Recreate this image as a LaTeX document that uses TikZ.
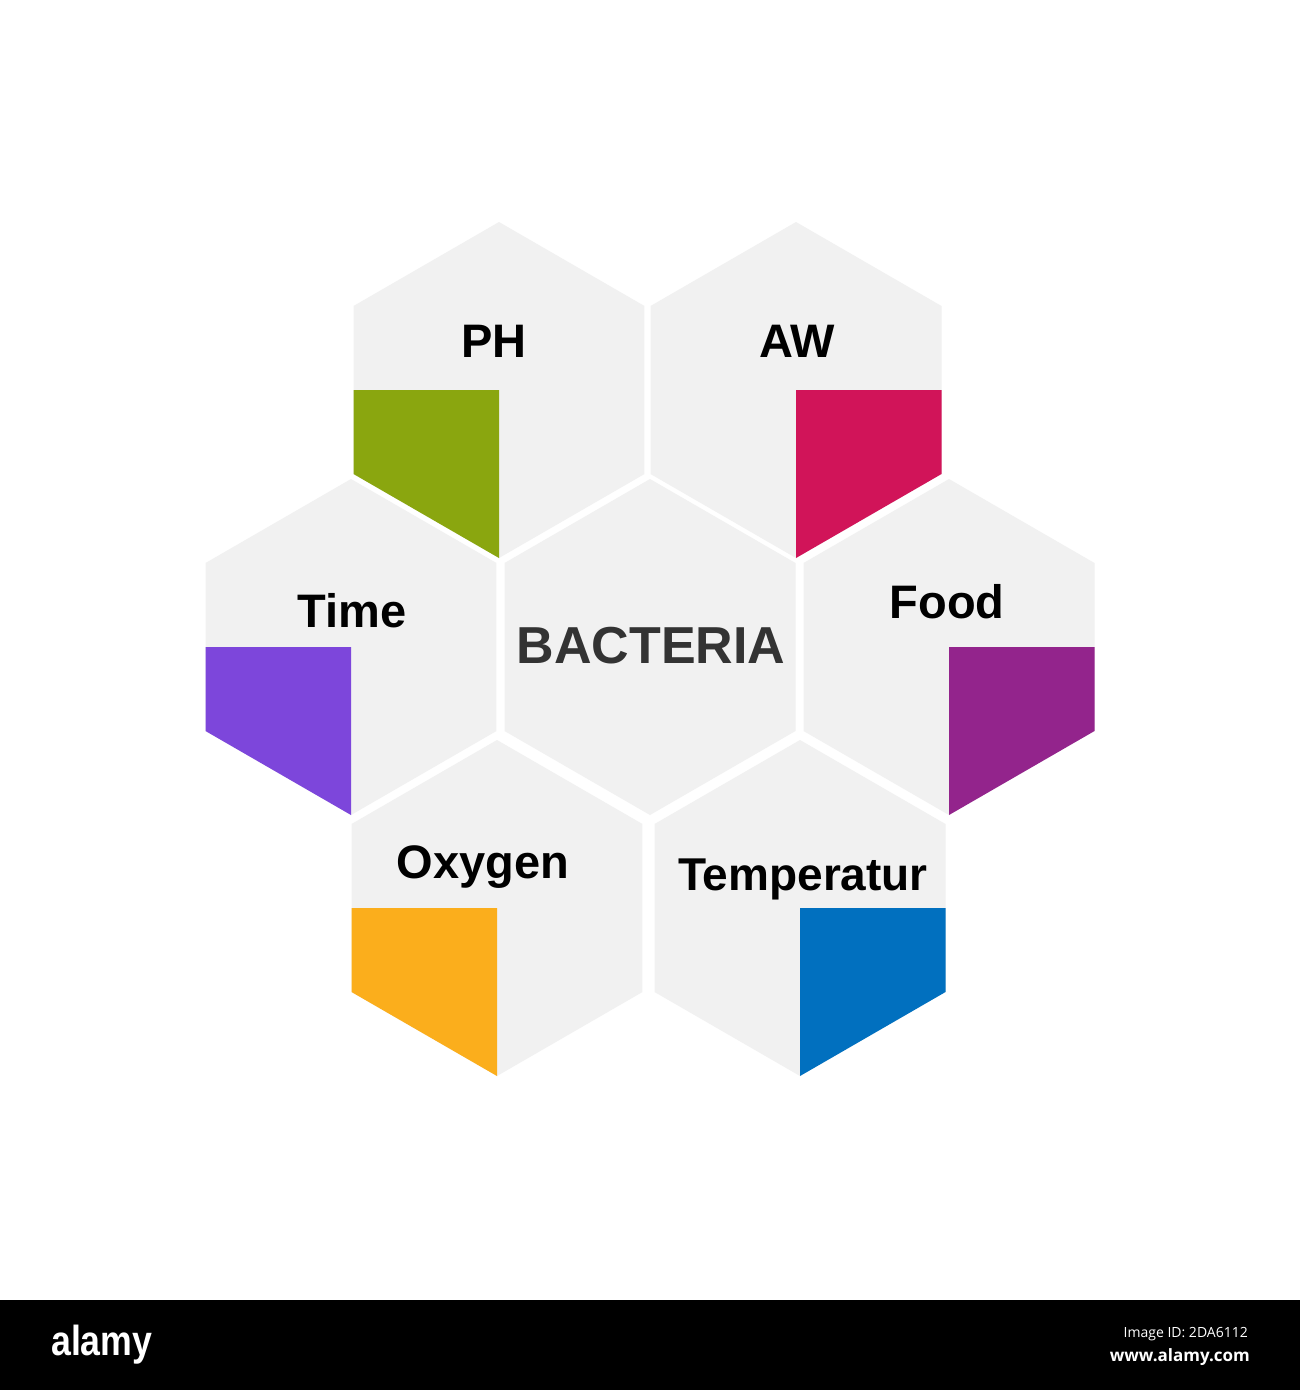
\documentclass[tikz,border=0pt]{standalone}
\usepackage{fontspec}
\setmainfont{Liberation Sans}
\newfontfamily\wmfont{Open Sans}
\usepackage{graphicx}
\usetikzlibrary{shapes.geometric}
\usetikzlibrary {positioning}
\definecolor {hexgray}{HTML}{F1F1F1}
\definecolor {phgreen}{HTML}{8AA60F}
\definecolor {awred}{HTML}{D11459}
\definecolor {timeviolet}{HTML}{7D46DB}
\definecolor {foodpurple}{HTML}{93248C}
\definecolor {oxyorange}{HTML}{FBAE1C}
\definecolor {tempblue}{HTML}{0170BF}
\definecolor {bactgray}{HTML}{333333}

\begin{document}
\begin{tikzpicture}[x=1pt ,y=-1pt ,on grid ,
hexa/.style ={regular polygon ,regular polygon sides =6 ,shape border rotate =30 ,
minimum size =336pt ,inner sep =0pt ,outer sep =0pt ,fill =hexgray},
lbl/.style ={anchor =base ,text =black ,font =\fontsize{47}{50}\selectfont\bfseries}]
\useasboundingbox[fill=white] (0,0) rectangle (1300,1390);
\node[hexa] (bact) at (650,647) {};
\node[hexa, above left =257pt and 151pt of bact] (ph) {};
\node[hexa, above right =257pt and 146pt of bact] (aw) {};
\node[hexa, left =299pt of bact] (time) {};
\node[hexa, right =299pt of bact] (food) {};
\node[hexa, below left =261pt and 153pt of bact] (oxy) {};
\node[hexa, below right =261pt and 150pt of bact] (temp) {};

\fill[phgreen] ([xshift=-145.5pt]ph.center) -- (ph.center) -- ([yshift=-168pt]ph.center) -- ([xshift=-145.5pt,yshift=-84pt]ph.center) -- cycle;
\fill[awred] ([xshift=145.5pt]aw.center) -- (aw.center) -- ([yshift=-168pt]aw.center) -- ([xshift=145.5pt,yshift=-84pt]aw.center) -- cycle;
\fill[timeviolet] ([xshift=-145.5pt]time.center) -- (time.center) -- ([yshift=-168pt]time.center) -- ([xshift=-145.5pt,yshift=-84pt]time.center) -- cycle;
\fill[foodpurple] ([xshift=145.5pt]food.center) -- (food.center) -- ([yshift=-168pt]food.center) -- ([xshift=145.5pt,yshift=-84pt]food.center) -- cycle;
\fill[oxyorange] ([xshift=-145.5pt]oxy.center) -- (oxy.center) -- ([yshift=-168pt]oxy.center) -- ([xshift=-145.5pt,yshift=-84pt]oxy.center) -- cycle;
\fill[tempblue] ([xshift=145.5pt]temp.center) -- (temp.center) -- ([yshift=-168pt]temp.center) -- ([xshift=145.5pt,yshift=-84pt]temp.center) -- cycle;

\node[lbl] (phtext) at (494,357) {PH};
\node[lbl] (awtext) at (797,357) {AW};
\node[lbl] (timetext) at (352,627) {Time};
\node[lbl] (foodtext) at (947,618) {Food};
\node[lbl] (oxytext) at (483,878) {Oxygen};
\node[lbl, font=\fontsize{46}{50}\selectfont\bfseries] (temptext) at (803,890) {Temperatur};
\node[lbl, text=bactgray, font=\fontsize{52}{54}\selectfont\bfseries] (bacttext) at (651,663) {BACTERIA};

\fill[black] (0,1300) rectangle (1300,1390);
\node[anchor=base west, inner sep=0pt, text=white, font=\fontsize{42}{44}\selectfont\bfseries] (alamy) at (51,1355) {\scalebox{0.85}[1]{alamy}};
\node[anchor=base east, inner sep=0pt, text=white, font=\wmfont\fontsize{14}{16}\selectfont] (imgid) at (1248,1337) {Image ID: 2DA6112};
\node[anchor=base east, inner sep=0pt, text=white, font=\wmfont\fontsize{17}{19}\selectfont\bfseries] (site) at (1250,1361) {www.alamy.com};
\end{tikzpicture}
\end{document}
